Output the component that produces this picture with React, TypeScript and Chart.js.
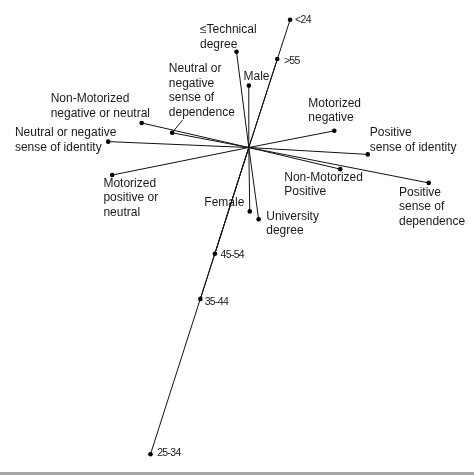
import { useEffect, useRef } from 'react'
import { Chart, registerables } from 'chart.js'

Chart.register(...registerables)

// biplot coordinates (origin = 0,0)
const categories = [
  '<24',
  '>55',
  'Male',
  '≤Technical\ndegree',
  'Motorized\nnegative',
  'Positive\nsense of identity',
  'Non-Motorized\nPositive',
  'Positive\nsense of\ndependence',
  'Female',
  'University\ndegree',
  'Neutral or\nnegative\nsense of\ndependence',
  'Non-Motorized\nnegative or neutral',
  'Neutral or negative\nsense of identity',
  'Motorized\npositive or\nneutral',
  '45-54',
  '35-44',
  '25-34'
]
const xValues = [0.42, 0.29, 0.0, -0.125, 0.87, 1.21, 0.93, 1.83, 0.01, 0.1, -0.78, -1.09, -1.43, -1.39, -0.345, -0.492, -1.0]
const yValues = [1.3, 0.9, 0.63, 0.975, 0.17, -0.07, -0.22, -0.36, -0.65, -0.73, 0.15, 0.25, 0.06, -0.28, -1.08, -1.54, -3.12]

// label placement: offset of first line centre from the point (px), alignment, small font
const labelStyle: { dx: number; dy: number; align?: CanvasTextAlign; small?: boolean; leader?: [number, number] }[] = [
  { dx: 5, dy: 0, small: true },
  { dx: 6.6, dy: 1.6, small: true },
  { dx: -5.3, dy: -9 },
  { dx: -36.5, dy: -21.8 },
  { dx: -26, dy: -27.6 },
  { dx: 2, dy: -21.7 },
  { dx: -56, dy: 8.4 },
  { dx: -29.7, dy: 9.4 },
  { dx: -5.4, dy: -8.7, align: 'right' },
  { dx: 7.6, dy: -3 },
  { dx: -3.3, dy: -64, leader: [10.7, -13] },
  { dx: -91, dy: -24 },
  { dx: -93.3, dy: -8.7 },
  { dx: -8.7, dy: 8.3 },
  { dx: 5.7, dy: 1.7, small: true },
  { dx: 4.3, dy: 3.3, small: true },
  { dx: 6.7, dy: -1.6, small: true }
]

const labelPlugin = {
  id: 'biplotLabels',
  afterDatasetsDraw(chart: Chart) {
    const ctx = chart.ctx
    ctx.save()
    ctx.fillStyle = '#1a1a1a'
    ctx.strokeStyle = '#1a1a1a'
    ctx.lineWidth = 1
    ctx.textBaseline = 'middle'
    categories.forEach((label, i) => {
      const el = chart.getDatasetMeta(i).data[1]
      if (!el) return
      const s = labelStyle[i]
      ctx.font = s.small ? '10.5px "Liberation Sans", Arial, sans-serif' : '12px "Liberation Sans", Arial, sans-serif'
      ;(ctx as any).letterSpacing = s.small ? '-0.7px' : '0px'
      ctx.textAlign = s.align ?? 'left'
      label.split('\n').forEach((line, j) => {
        ctx.fillText(line, el.x + s.dx, el.y + s.dy + j * 14.5)
      })
      if (s.leader) {
        ctx.beginPath()
        ctx.moveTo(el.x, el.y)
        ctx.lineTo(el.x + s.leader[0], el.y + s.leader[1])
        ctx.stroke()
      }
    })
    ctx.restore()
  }
}

export default function App() {
  const chartRef = useRef<HTMLCanvasElement | null>(null)
  const chartInstance = useRef<Chart | null>(null)

  useEffect(() => {
    if (chartInstance.current) {
      chartInstance.current.destroy()
    }
    const ctx = chartRef.current?.getContext('2d')
    if (!ctx) return

    chartInstance.current = new Chart(ctx, {
      type: 'scatter',
      data: {
        datasets: categories.map((c, i) => ({
          label: c,
          data: [
            { x: 0, y: 0 },
            { x: xValues[i], y: yValues[i] }
          ],
          showLine: true,
          borderColor: '#111',
          borderWidth: 1,
          backgroundColor: '#000',
          pointBackgroundColor: '#000',
          pointBorderWidth: 0,
          pointRadius: [0, 2.3]
        }))
      },
      options: {
        animation: false,
        responsive: false,
        layout: { padding: 0 },
        scales: {
          x: { type: 'linear', min: -2.49, max: 2.25, display: false },
          y: { type: 'linear', min: -3.26, max: 1.46, display: false }
        },
        plugins: {
          legend: { display: false },
          tooltip: { enabled: false }
        }
      },
      plugins: [labelPlugin]
    })

    return () => {
      if (chartInstance.current) {
        chartInstance.current.destroy()
        chartInstance.current = null
      }
    }
  }, [])

  return (
    <div style={{ position: 'absolute', top: 0, left: 0, width: 474, height: 475, background: '#fff' }}>
      <canvas ref={chartRef} width={474} height={472} style={{ display: 'block' }}></canvas>
      <div style={{ height: 3, background: '#a6a6a6' }}></div>
    </div>
  )
}
